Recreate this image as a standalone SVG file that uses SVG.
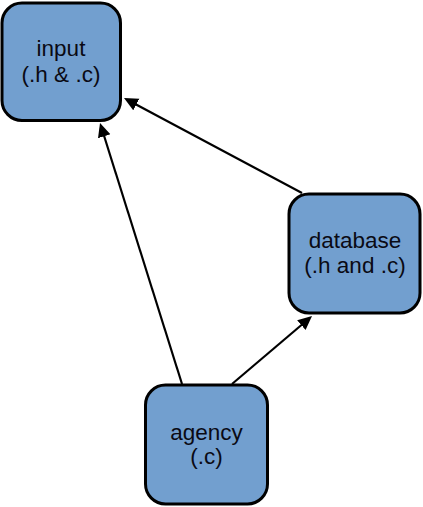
<svg xmlns="http://www.w3.org/2000/svg" width="423" height="507" viewBox="0 0 423 507">
  <style>
    .box { fill: #729fcf; stroke: #000; stroke-width: 3; }
    .lbl { font-family: "Liberation Sans", Arial, sans-serif; font-size: 22.5px; fill: #0a0a14; text-anchor: middle; }
    .edge { stroke: #000; stroke-width: 2.2; fill: none; marker-end: url(#arrow); }
  </style>
  <defs>
    <marker id="arrow" markerUnits="userSpaceOnUse" markerWidth="16" markerHeight="14" refX="4" refY="6.5" orient="auto">
      <path d="M0,0 L14,6.5 L0,13 z" fill="#000"/>
    </marker>
  </defs>
  <rect width="423" height="507" fill="#fff"/>
  <g id="connectors">
    <line class="edge" x1="182" y1="384" x2="103" y2="132.5"/>
    <line class="edge" x1="302" y1="193" x2="132.8" y2="102.7"/>
    <line class="edge" x1="232" y1="384" x2="304.4" y2="322.5"/>
  </g>
  <g id="input">
    <rect class="box" x="2" y="3" width="118.5" height="117.5" rx="20"/>
    <text class="lbl" x="61" y="56">input</text>
    <text class="lbl" x="61" y="82">(.h &amp; .c)</text>
  </g>
  <g id="database">
    <rect class="box" x="289" y="194" width="131" height="119" rx="20"/>
    <text class="lbl" x="355" y="248">database</text>
    <text class="lbl" x="355" y="272.5">(.h and .c)</text>
  </g>
  <g id="agency">
    <rect class="box" x="145.5" y="385" width="122" height="119" rx="20"/>
    <text class="lbl" x="206.5" y="440">agency</text>
    <text class="lbl" x="206.5" y="463.5">(.c)</text>
  </g>
</svg>
